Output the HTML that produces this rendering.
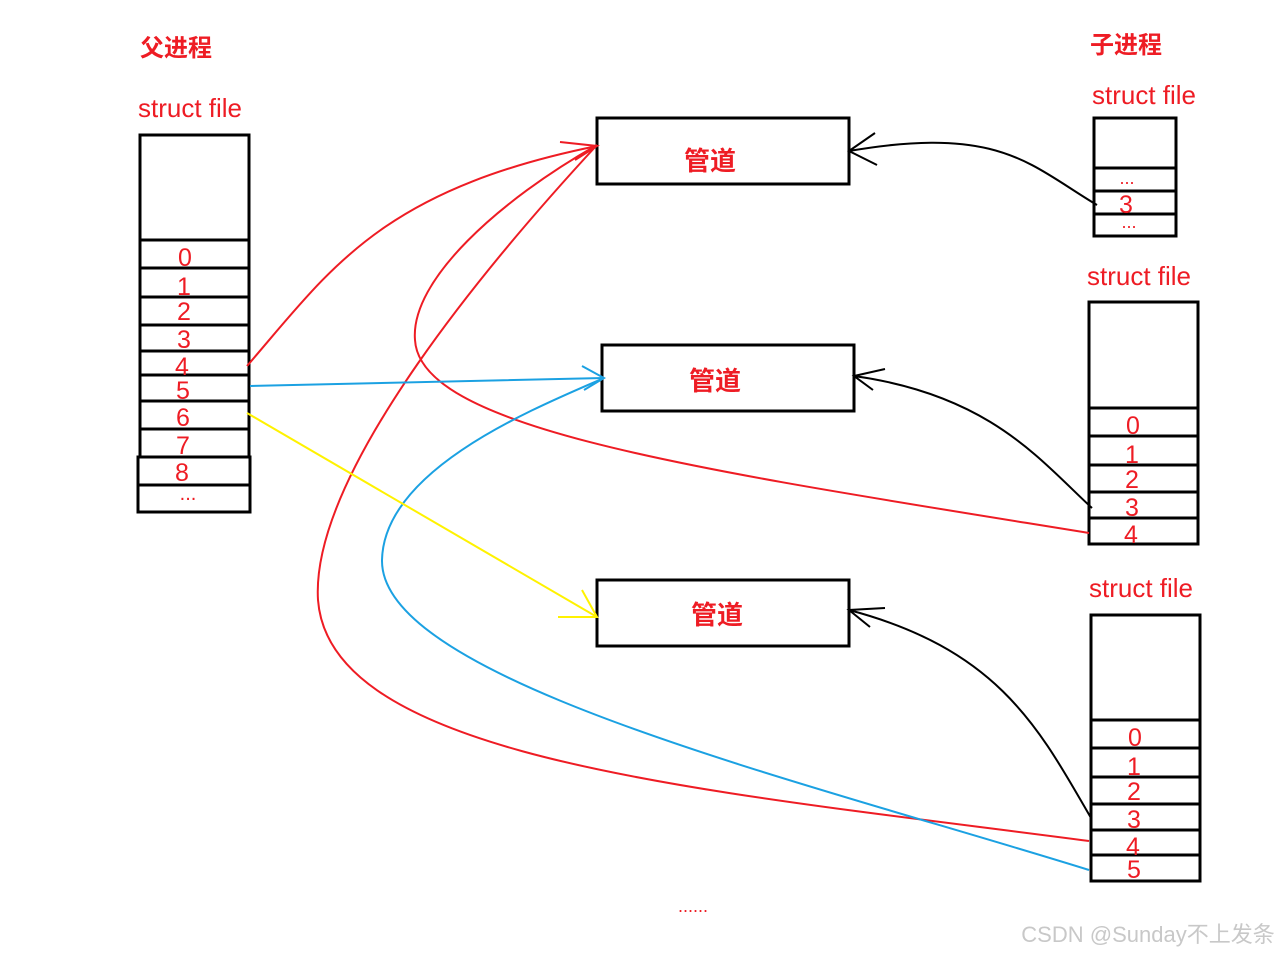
<!DOCTYPE html>
<html><head><meta charset="utf-8"><style>
body{margin:0;background:#fff}
svg text{font-family:"Liberation Sans","Noto Sans CJK SC",sans-serif;fill:#ee1c24}
</style></head><body>
<svg width="1286" height="955" xmlns="http://www.w3.org/2000/svg">
<g fill="#fff" stroke="#000" stroke-width="3">
<rect x="140" y="135" width="109" height="322"/>
<rect x="138" y="457" width="112" height="55"/>
<path d="M140 240H250M140 268H249M140 297H249M140 325H249M140 351H249M140 375H249M140 401H249M140 429H249M138 485H250"/>
<rect x="1094" y="118" width="82" height="118"/>
<path d="M1094 168H1177M1094 191H1177M1094 214H1176"/>
<rect x="1089" y="302" width="109" height="242"/>
<path d="M1089 408H1199M1089 436H1198M1089 465H1198M1089 492H1198M1089 518H1198"/>
<rect x="1091" y="615" width="109" height="266"/>
<path d="M1091 720H1201M1091 748H1200M1091 777H1200M1091 804H1200M1091 830H1200M1091 855H1200"/>
<rect x="597" y="118" width="252" height="66"/>
<rect x="602" y="345" width="252" height="66"/>
<rect x="597" y="580" width="252" height="66"/>
</g>
<g font-size="24" font-weight="bold" text-anchor="middle">
<text x="176" y="56">父进程</text>
<text x="1126" y="53">子进程</text>
<text x="710" y="170" font-size="26">管道</text>
<text x="715" y="390" font-size="26">管道</text>
<text x="717" y="624" font-size="26">管道</text>
</g>
<g font-size="26" text-anchor="middle">
<text x="190" y="117">struct file</text>
<text x="1144" y="104">struct file</text>
<text x="1139" y="285">struct file</text>
<text x="1141" y="597">struct file</text>
</g>
<g font-size="25" text-anchor="middle">
<text x="185" y="266">0</text><text x="184" y="295">1</text><text x="184" y="320">2</text><text x="184" y="348">3</text><text x="182" y="375">4</text><text x="183" y="399">5</text><text x="183" y="426">6</text><text x="183" y="454">7</text><text x="182" y="481">8</text>
<text x="188" y="500" font-size="20">...</text>
<text x="1127" y="184" font-size="18">...</text><text x="1126" y="213">3</text><text x="1129" y="228" font-size="18">...</text>
<text x="1133" y="434">0</text><text x="1132" y="463">1</text><text x="1132" y="488">2</text><text x="1132" y="516">3</text><text x="1131" y="543">4</text>
<text x="1135" y="746">0</text><text x="1134" y="775">1</text><text x="1134" y="800">2</text><text x="1134" y="828">3</text><text x="1133" y="855">4</text><text x="1134" y="878">5</text>
<text x="693" y="912" font-size="18">......</text>
</g>
<text x="1148" y="942" font-size="22" text-anchor="middle" style="fill:#c8c8c8">CSDN @Sunday不上发条</text>
<g fill="none" stroke-width="2">
<path d="M247 366C330 270 380 190 597 146M560 142L597 146L575 160" stroke="#ee1c24"/>
<path d="M1089 533C700 470 420 430 415 340C410 280 500 200 597 145" stroke="#ee1c24"/>
<path d="M1089 841C700 790 330 760 318 600C310 470 500 250 597 145" stroke="#ee1c24"/>
<path d="M250 386L604 378M582 366L604 378L584 390" stroke="#1ba1e2"/>
<path d="M1089 870C800 780 380 680 382 560C384 470 530 410 604 378" stroke="#1ba1e2"/>
<path d="M247 413L597 617M558 617L597 617L582 590" stroke="#fff200"/>
<g stroke="#000">
<path d="M1097 205C1030 165 1000 125 849 151M875 133L849 151L877 165"/>
<path d="M1092 508C1040 460 990 395 854 376M885 369L854 376L873 390"/>
<path d="M1091 818C1040 730 1000 650 849 610M885 608L849 610L870 627"/>
</g>
</g>
</svg>
</body></html>
